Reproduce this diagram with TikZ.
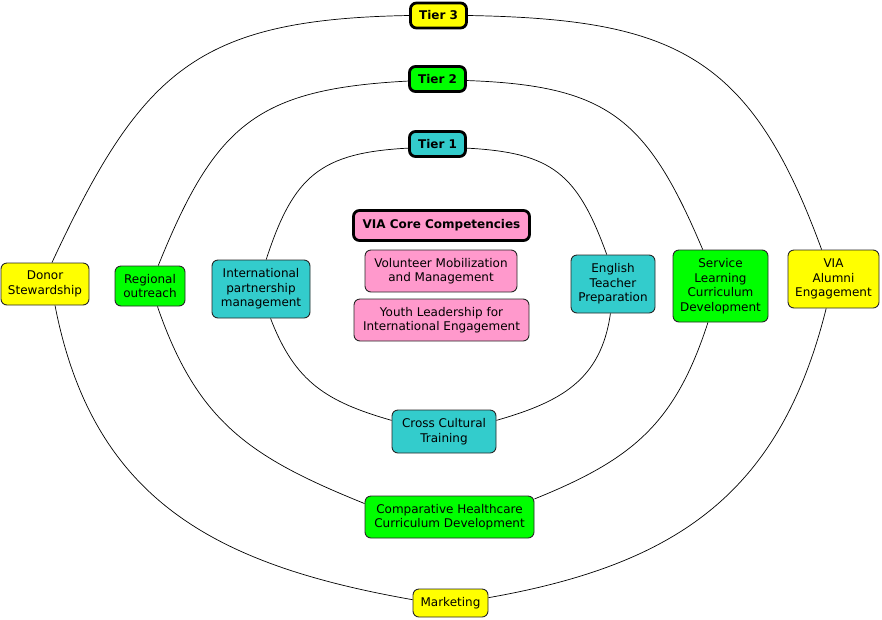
\documentclass[tikz,border=0pt]{standalone}
\usepackage{fontspec}
\setmainfont{DejaVu Sans}
\usepackage{xcolor}
\usetikzlibrary{positioning}
\definecolor{tieryellow}{RGB}{255,255,0}
\definecolor{tiergreen}{RGB}{0,255,0}
\definecolor{tierteal}{RGB}{51,204,204}
\definecolor{corepink}{RGB}{255,153,204}

\begin{document}
\begin{tikzpicture}[
    x=1pt, y=1pt,
    every node/.style={font=\fontsize{12}{14.5}\selectfont},
    box/.style={rectangle, rounded corners=6pt, draw=black!85, line width=0.9pt, align=center, inner sep=1pt},
    tier/.style={box, draw=black, line width=2.8pt, font=\fontsize{12}{14.5}\selectfont\bfseries, minimum width=56pt, minimum height=25pt},
    ring/.style={line width=0.7pt, looseness=1.2}
]
\useasboundingbox (0,0) rectangle (882,-619);
% tier labels
\node[tier, fill=tieryellow] (tier3) at (438.5,-15.5) {Tier 3};
\node[tier, fill=tiergreen] (tier2) at (437.5,-79) {Tier 2};
\node[tier, fill=tierteal] (tier1) at (437.5,-144) {Tier 1};
% core competencies
\node[box, fill=corepink, draw=black, line width=2.8pt, font=\fontsize{12}{14.5}\selectfont\bfseries, minimum width=176pt, minimum height=30pt] (core) at (441.5,-225.5) {VIA Core Competencies};
\node[box, fill=corepink, minimum width=152pt, minimum height=42pt] (volunteer) at (441,-271) {Volunteer Mobilization\\and Management};
\node[box, fill=corepink, minimum width=175pt, minimum height=42pt] (youth) at (441.5,-320) {Youth Leadership for\\International Engagement};
% tier 1
\node[box, fill=tierteal, minimum width=98pt, minimum height=58pt] (intl) at (261,-289) {International\\partnership\\management};
\node[box, fill=tierteal, minimum width=84pt, minimum height=58pt] (english) at (613,-284) {English\\Teacher\\Preparation};
\node[box, fill=tierteal, minimum width=104pt, minimum height=43pt] (cross) at (444,-431.5) {Cross Cultural\\Training};
% tier 2
\node[box, fill=tiergreen, minimum width=70pt, minimum height=40pt] (regional) at (150,-286) {Regional\\outreach};
\node[box, fill=tiergreen, minimum width=95pt, minimum height=72pt] (service) at (720.5,-286) {Service\\Learning\\Curriculum\\Development};
\node[box, fill=tiergreen, minimum width=169pt, minimum height=42pt] (comparative) at (449.5,-517) {Comparative Healthcare\\Curriculum Development};
% tier 3
\node[box, fill=tieryellow, minimum width=88pt, minimum height=42pt] (donor) at (45,-284) {Donor\\Stewardship};
\node[box, fill=tieryellow, minimum width=91pt, minimum height=58pt] (alumni) at (833.5,-279) {VIA\\Alumni\\Engagement};
\node[box, fill=tieryellow, minimum width=75pt, minimum height=28pt] (marketing) at (450.5,-603) {Marketing};
% rings
\draw[ring, looseness=1.25] (tier1.188) to[out=183, in=72] (intl.80);
\draw[ring, looseness=1.1] (intl.-72) to[out=-69, in=164] (cross.168);
\draw[ring, looseness=1.1] (cross.12) to[out=16, in=-98] (english.-95);
\draw[ring, looseness=1.25] (english.102) to[out=110, in=-3] (tier1.-8);
\draw[ring, looseness=1.25] (tier2.184) to[out=183, in=68] (regional.68);
\draw[ring, looseness=1.1] (regional.-70) to[out=-71, in=158] (comparative.171);
\draw[ring, looseness=1.1] (comparative.12) to[out=22, in=-108] (service.-109);
\draw[ring, looseness=1.25] (service.116) to[out=113, in=-2] (tier2.-3);
\draw[ring, looseness=1.25] (tier3.west) to[out=181, in=65] (donor.72);
\draw[ring, looseness=1.1] (donor.-65) to[out=-79, in=170] (marketing.175);
\draw[ring, looseness=1.1] (marketing.8) to[out=10, in=-104] (alumni.-104);
\draw[ring, looseness=1.25] (alumni.112) to[out=110, in=-1] (tier3.east);
\end{tikzpicture}
\end{document}
